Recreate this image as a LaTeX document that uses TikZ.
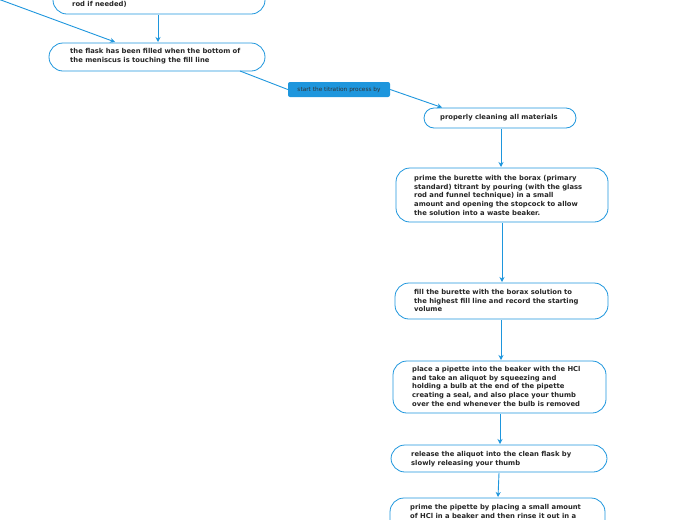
\documentclass[tikz,border=0pt]{standalone}
\usetikzlibrary{arrows.meta}
\usepackage{fontspec}
\setmainfont{DejaVu Sans}
\definecolor{bl}{HTML}{1E96DD}
\begin{document}
\begin{tikzpicture}[x=1pt,y=-1pt,
 box/.style={draw=bl,line width=0.8pt,rounded corners=14pt,fill=white},
 txt/.style={font=\bfseries\fontsize{6.8}{8.7}\selectfont,align=left,anchor=north west,inner sep=0pt,text=black!85},
 arr/.style={draw=bl,line width=0.9pt,-{Stealth[length=5pt,width=5pt]}}]
\useasboundingbox (0,0) rectangle (697,520);
\clip (0,0) rectangle (697,520);
% boxes
\draw[box] (53,-30) rectangle (265,14); \node (b0) at (159,-8) {};
\node[txt] at (72,1) {rod if needed)};
\draw[box] (49,43) rectangle (265,71);
\node[txt] at (70,48) {the flask has been filled when the bottom of\\the meniscus is touching the fill line};
\node[fill=bl,rounded corners=2pt,inner sep=0pt,minimum width=102pt,minimum height=15pt,font=\fontsize{5.8}{6}\selectfont,text=black!80] (lab) at (339,89.5) {start the titration process by};
\draw[box,rounded corners=10pt] (424,108) rectangle (576,128);
\node[txt] at (440,114) {properly cleaning all materials};
\draw[box] (396,168) rectangle (608,222);
\node[txt] at (414,175) {prime the burette with the borax (primary\\standard) titrant by pouring (with the glass\\rod and funnel technique) in a small\\amount and opening the stopcock to allow\\the solution into a waste beaker.};
\draw[box] (395,283) rectangle (608,319);
\node[txt] at (414,289) {fill the burette with the borax solution to\\the highest fill line and record the starting\\volume};
\draw[box] (393,361) rectangle (606,413);
\node[txt] at (412,366) {place a pipette into the beaker with the HCl\\and take an aliquot by squeezing and\\holding a bulb at the end of the pipette\\creating a seal, and also place your thumb\\over the end whenever the bulb is removed};
\draw[box] (391,445) rectangle (607,472);
\node[txt] at (411,451) {release the aliquot into the clean flask by\\slowly releasing your thumb};
\draw[box] (390,498) rectangle (605,545);
\node[txt] at (410,504) {prime the pipette by placing a small amount\\of HCl in a beaker and then rinse it out in a};
% connectors
\coordinate (s0) at (-10,-4);
\draw[arr] (s0) -- (115,42);
\draw[arr] (158,15) -- (158,42);
\draw[draw=bl,line width=0.9pt] (240,71) -- (lab.west);
\draw[arr] (lab.east) -- (442,107.5);
\draw[arr] (501,129) -- (501,167);
\draw[arr] (502,223) -- (502,282);
\draw[arr] (501,320) -- (501,360);
\draw[arr] (500,414) -- (500,444);
\draw[arr] (499,473) -- (498,497);
\end{tikzpicture}
\end{document}
